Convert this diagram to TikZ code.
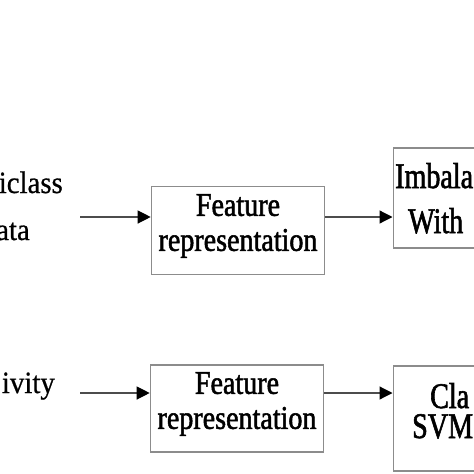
\documentclass[tikz,border=0pt]{standalone}
\usepackage{fontspec}
\setmainfont{Liberation Serif}
\newfontfamily\boxfont[FakeStretch=0.85,FakeBold=1.6]{Liberation Serif}
\newfontfamily\bigfont[FakeStretch=0.78,FakeBold=1.6]{Liberation Serif}
\newfontfamily\sidefont[FakeStretch=0.93,FakeBold=0.6]{Liberation Serif}
\usetikzlibrary{arrows.meta}

\begin{document}
\begin{tikzpicture}[%
            x=1pt, y=-1pt,
            >={Triangle[length=13pt,width=13pt,black]},
            block/.style={draw=black!45, line width=1.6pt, fill=white, inner sep=0pt},
            feat/.style={block, minimum width=173pt, minimum height=88pt,
                align=center, text depth=16pt,
                font=\boxfont\fontsize{33}{35}\selectfont},
            side/.style={anchor=base east, inner sep=0pt,
                font=\sidefont\fontsize{31}{36}\selectfont},
            big/.style={anchor=base west, inner sep=0pt,
                font=\bigfont\fontsize{36}{44}\selectfont},
            flow/.style={->, draw=black!70, line width=1.2pt}
            ]
            \useasboundingbox (0,0) rectangle (474,474);

            % inputs on the left
            \node[side] (mc1) at (63,193) {iclass};
            \node[side] (mc2) at (30,240) {ata};
            \node[side] (sen) at (55,393) {ivity};

            % feature boxes
            \node[feat] (feat1) at (238,230.5) {Feature\\representation};
            \node[feat, minimum height=87pt] (feat2) at (237,408.5) {Feature\\representation};

            % boxes cut by the right edge
            \node[block, minimum width=90pt, minimum height=100pt, anchor=north west] (imb) at (392.5,147) {};
            \node[block, minimum width=90pt, minimum height=105pt, anchor=north west] (cls) at (392.5,365) {};
            \node[big] (imb1) at (395,188) {Imbala};
            \node[big] (imb2) at (408,233) {With};
            \node[big] (cls1) at (430,408) {Cla};
            \node[big] (cls2) at (412,438) {SVM};

            \coordinate (s1) at (80,217);
            \coordinate (s2) at (80,393);
            \draw[flow] (s1) -- (s1 -| feat1.west);
            \draw[flow] (feat1.east |- s1) -- (s1 -| imb.west);
            \draw[flow] (s2) -- (s2 -| feat2.west);
            \draw[flow] (feat2.east |- s2) -- (s2 -| cls.west);
\end{tikzpicture}
\end{document}
